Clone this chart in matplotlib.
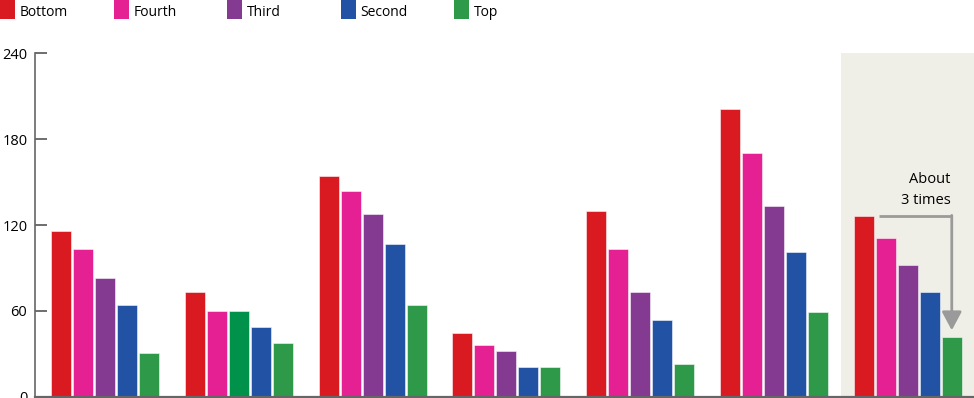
import matplotlib.pyplot as plt
from matplotlib.patches import Rectangle

# values, one list per quintile
series = ["Bottom", "Fourth", "Third", "Second", "Top"]
bottom = [116, 73, 154, 45, 130, 201, 126]
fourth = [103, 60, 144, 36, 103, 170, 111]
third = [83, 60, 128, 32, 73, 133, 92]
second = [64, 49, 107, 21, 54, 101, 73]
top = [31, 38, 64, 21, 23, 59, 42]
yticks = [0, 60, 120, 180, 240]

colors = ["#d91a21", "#e42092", "#853a91", "#2152a4", "#2f994a"]
odd_green = "#00914a"  # third bar of group 2 is drawn green in the original

plt.rcParams['font.family'] = ['Open Sans', 'DejaVu Sans']

fig = plt.figure(figsize=(9.74, 3.98), dpi=100)
ax = fig.add_axes([35 / 974, 1 / 398, 939 / 974, 344 / 398])

pitch = 22 / 133.8
width = 20 / 133.8
groups = list(range(len(bottom)))
data = [bottom, fourth, third, second, top]

for k, vals in enumerate(data):
    xs = [g + (k - 2) * pitch for g in groups]
    cols = [colors[k]] * len(vals)
    if k == 2:
        cols[1] = odd_green
    ax.bar(xs, vals, width=width, color=cols, edgecolor=(1, 1, 1, 0.6),
           linewidth=0.6, zorder=2)

xmin, xmax = -0.523, 6.495
ax.axvspan(5.5, xmax, color="#f0efe7", zorder=0, lw=0)
ax.set_xlim(xmin, xmax)
ax.set_ylim(0, 240)

ax.set_yticks(yticks)
ax.set_yticklabels([str(t) for t in yticks], fontsize=10.5)
ax.tick_params(axis='y', direction='in', length=8.5, width=1.2, color="#555555", pad=5.5)
ax.set_xticks([])
for s in ["top", "right"]:
    ax.spines[s].set_visible(False)
ax.spines["left"].set_color("#666666")
ax.spines["left"].set_linewidth(1.2)
ax.spines["bottom"].set_color("#666666")
ax.spines["bottom"].set_linewidth(1.6)

# annotation: bottom vs top in last group
last = groups[-1]
x_red = last - 2 * pitch
x_green = last + 2 * pitch
ax.plot([x_red + width / 2 + 0.04, x_green], [bottom[-1], bottom[-1]],
        color="#9a9a9a", lw=2, solid_capstyle='butt', zorder=3)
ax.annotate("", xy=(x_green, top[-1] + 4.5), xytext=(x_green, bottom[-1] + 0.7),
            arrowprops=dict(arrowstyle='-|>,head_width=0.4,head_length=0.75',
                            color="#9a9a9a", lw=2,
                            mutation_scale=15, shrinkA=0, shrinkB=0), zorder=3)
ax.text(x_green - 0.01, 149, "About", ha='right', va='baseline', fontsize=10.5)
ax.text(x_green - 0.01, 135, "3 times", ha='right', va='baseline', fontsize=10.5)

# legend across the top
for i, name in enumerate(series):
    x0 = (0 + i * 113.5) / 974
    fig.add_artist(Rectangle((x0, (398 - 19) / 398), 15 / 974, 25 / 398,
                             transform=fig.transFigure, color=colors[i], lw=0))
    fig.text(x0 + 20 / 974, (398 - 16) / 398, name, fontsize=10,
             ha='left', va='baseline')

fig.savefig("out.png", dpi=100)
